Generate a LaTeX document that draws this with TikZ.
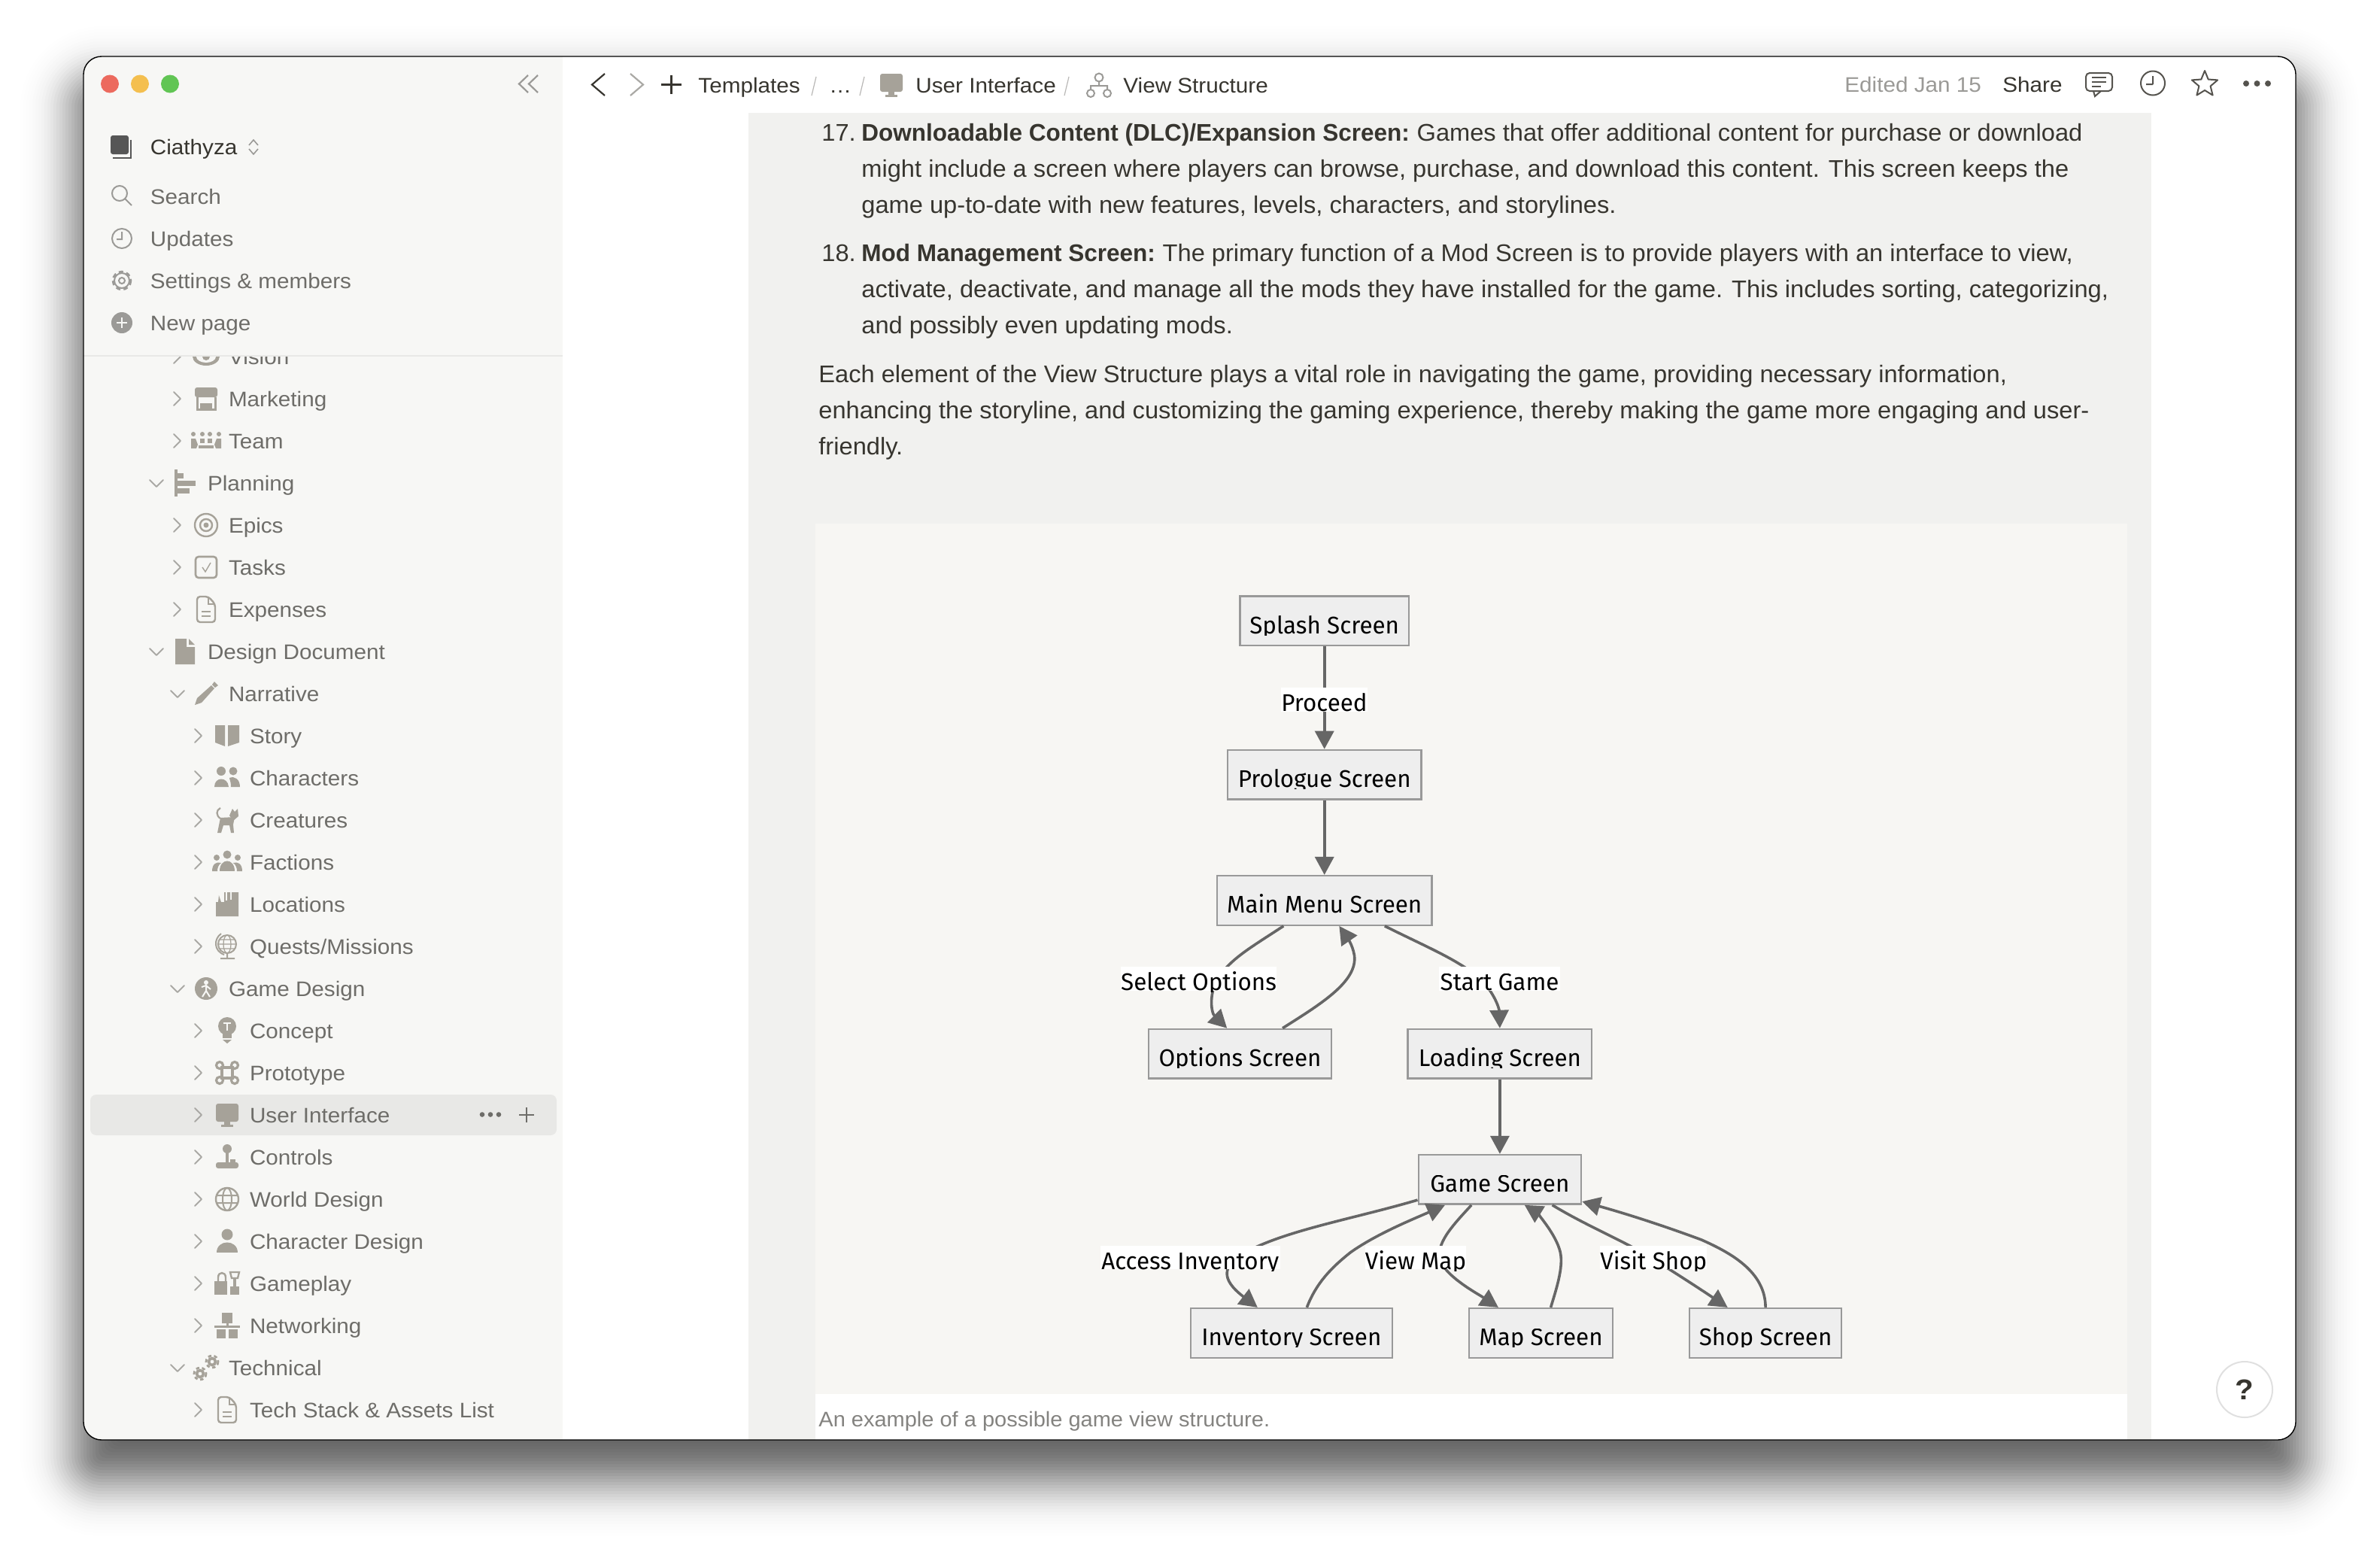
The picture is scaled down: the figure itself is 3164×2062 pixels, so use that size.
\documentclass[tikz,border=0pt]{standalone}
\usepackage{fontspec}
\usepackage{trimclip}
\setmainfont[FakeStretch=1.06]{Liberation Sans}
\newfontfamily\bodyfont[FakeStretch=1.02,BoldFeatures={FakeStretch=0.985}]{Liberation Sans}
\newfontfamily\notefont[FakeStretch=1.036]{Liberation Sans}
\newfontfamily\chartfont[FakeStretch=0.98]{Fira Sans}
\usetikzlibrary{arrows.meta,positioning}
\definecolor{sidebarbg}{HTML}{F7F7F5}
\definecolor{sidebarink}{HTML}{6E6D69}
\definecolor{bodyink}{HTML}{37352F}
\definecolor{mutedink}{HTML}{9B9A97}
\definecolor{iconink}{HTML}{A6A299}
\definecolor{chevink}{HTML}{AAA9A5}
\definecolor{pagegray}{HTML}{F1F1EF}
\definecolor{chartbg}{HTML}{F7F6F3}
\definecolor{selectrow}{HTML}{E8E8E6}
\definecolor{boxfill}{HTML}{EEEEEE}
\definecolor{boxline}{HTML}{999999}
\definecolor{edgeink}{HTML}{666666}
\newcommand{\cutlabel}[1]{\clipbox{0pt {\dimexpr\depth-0.8pt\relax} 0pt 0pt}{#1}}
\newcommand{\chevright}{\draw[chevstyle] (-5,-9) -- (4,0) -- (-5,9);}
\newcommand{\chevdown}{\draw[chevstyle] (-9,-4) -- (0,5) -- (9,-4);}
\newcommand{\icvision}{\fill[iconink] (0,0) ellipse [x radius=18,y radius=12]; \fill[sidebarbg] (0,0) ellipse [x radius=13,y radius=8]; \fill[iconink] (0,0) circle [radius=5];}
\newcommand{\icstore}{\fill[iconink,rounded corners=1.5pt] (-15,-2) -- (-15,-15) -- (15,-15) -- (15,-2) -- cycle; \draw[iconink,line width=1.5pt] (-12,-2) -- (-12,14) -- (12,14) -- (12,-2); \fill[iconink] (-8,6) rectangle (8,14);}
\newcommand{\icteam}{\foreach \hx in {-17,-5,5,17} {\fill[iconink] (\hx,-9) circle [radius=3];} \fill[iconink] (-20,10) -- (-20,-3) -- (-14,-3) -- (-11,5) -- (-13,10) -- cycle; \fill[iconink] (20,10) -- (20,-3) -- (14,-3) -- (11,5) -- (13,10) -- cycle; \fill[iconink] (-10,10) rectangle (10,6); \fill[iconink] (-8,3) rectangle (-2,-3); \fill[iconink] (2,3) rectangle (8,-3);}
\newcommand{\icgantt}{\fill[iconink] (-14,-18) rectangle (-10,18); \fill[iconink] (-10,-13) rectangle (-2,-6); \fill[iconink] (-10,-3) rectangle (14,4); \fill[iconink] (-10,7) rectangle (6,14);}
\newcommand{\ictarget}{\draw[iconink,line width=1.2pt] (0,0) circle [radius=15]; \draw[iconink,line width=1.2pt] (0,0) circle [radius=8]; \fill[iconink] (0,0) circle [radius=3.5];}
\newcommand{\iccheck}{\draw[iconink,line width=1.3pt,rounded corners=2pt] (-14,-14) rectangle (14,14); \draw[iconink,line width=0.7pt] (-5,0) -- (-1,6) -- (6,-6);}
\newcommand{\icdoc}{\draw[iconink,line width=1.2pt,rounded corners=2pt] (-12,-17) -- (3,-17) -- (12,-7) -- (12,17) -- (-12,17) -- cycle; \draw[iconink,line width=0.8pt] (3,-17) -- (3,-7) -- (12,-7); \draw[iconink,line width=0.8pt] (-6,3) -- (6,3) (-6,9) -- (6,9);}
\newcommand{\icfilleddoc}{\fill[iconink] (-13,-17) -- (2,-17) -- (2,-6) -- (13,-6) -- (13,17) -- (-13,17) -- cycle; \fill[iconink] (5,-17) -- (13,-9) -- (5,-9) -- cycle;}
\newcommand{\icpencil}{\fill[iconink] (-15,15) -- (-12,6) -- (7,-11) -- (11,-7) -- (-6,12) -- cycle; \fill[iconink] (11,-16) -- (16,-11) -- (12,-8) -- (8,-12) -- cycle;}
\newcommand{\icbook}{\fill[iconink] (-16,-14) -- (-3,-14) -- (-3,14) -- (-16,9) -- cycle; \fill[iconink] (1,-14) -- (16,-14) -- (16,9) -- (1,14) -- cycle;}
\newcommand{\icpair}{\fill[iconink] (-8,-9) circle [radius=6]; \fill[iconink] (8,-9) circle [radius=5.5]; \fill[iconink] (-17,12) .. controls (-17,-2) and (1,-2) .. (2,12) -- cycle; \fill[iconink] (5,12) .. controls (5,4) and (3,2) .. (3,0) .. controls (10,-3) and (17,2) .. (17,12) -- cycle;}
\newcommand{\iccat}{\fill[iconink] (-9,-3) -- (10,-4) -- (8,6) -- (9,17) -- (5,17) -- (3,7) -- (-5,7) -- (-8,17) -- (-13,17) -- cycle; \fill[iconink] (3,-6) -- (7,-15) -- (10,-11) -- (14,-15) -- (15,-5) -- (8,1) -- cycle; \draw[iconink,line width=1.1pt] (-9,-2) .. controls (-15,-6) and (-15,-13) .. (-9,-16);}
\newcommand{\icgroup}{\fill[iconink] (0,-10) circle [radius=5.5]; \fill[iconink] (-14,-6) circle [radius=4]; \fill[iconink] (14,-6) circle [radius=4]; \fill[iconink] (-10,12) .. controls (-10,-6) and (10,-6) .. (10,12) -- cycle; \fill[iconink] (-20,12) .. controls (-20,2) and (-14,-1) .. (-8,1) .. controls (-12,4) and (-13,8) .. (-13,12) -- cycle; \fill[iconink] (20,12) .. controls (20,2) and (14,-1) .. (8,1) .. controls (12,4) and (13,8) .. (13,12) -- cycle;}
\newcommand{\iccity}{\fill[iconink] (-15,16) -- (-15,-3) -- (-12,-3) -- (-11,-12) -- (-8,-3) -- (-4,-3) -- (-4,-16) -- (4,-16) -- (4,-6) -- (6,-6) -- (6,-16) -- (15,-16) -- (15,16) -- cycle; \fill[sidebarbg] (-2,-17) rectangle (0,-5);}
\newcommand{\icdeskglobe}{\draw[iconink,line width=1pt] (0,-3) circle [radius=12]; \draw[iconink,line width=0.6pt] (0,-3) ellipse [x radius=5,y radius=12] (-12,-3) -- (12,-3) (-10,-9) -- (10,-9) (-10,3) -- (10,3); \draw[iconink,line width=1pt] (-8,-17) .. controls (-18,-10) and (-18,6) .. (-4,11) (0,10) -- (0,16) (-9,16) -- (10,16);}
\newcommand{\icwalker}{\fill[iconink] (0,0) circle [radius=15]; \fill[sidebarbg] (0,-8) circle [radius=3]; \draw[sidebarbg,line width=1pt] (-6,-2) -- (0,-4) -- (6,1) (0,-4) -- (0,3) -- (-5,11) (0,3) -- (5,11);}
\newcommand{\icbulb}{\fill[iconink] (0,-6) circle [radius=12]; \fill[iconink] (-6,2) rectangle (6,10); \fill[iconink] (-6,12) -- (6,12) -- (0,17) -- cycle; \draw[sidebarbg,line width=0.9pt] (-5,-10) -- (5,-10) (0,-10) -- (0,0);}
\newcommand{\iccommand}{\draw[iconink,line width=1.6pt] (-7,-7) rectangle (7,7); \foreach \hx/\hy in {-10/-10,10/-10,-10/10,10/10} {\draw[iconink,line width=1.6pt] (\hx,\hy) circle [radius=4.5];}}
\newcommand{\icmonitor}{\fill[iconink,rounded corners=1.5pt] (-15,-15) rectangle (15,9); \fill[iconink] (-4,9) rectangle (4,14); \fill[iconink] (-8,13) rectangle (8,16);}
\newcommand{\icjoystick}{\fill[iconink] (0,-11) circle [radius=6]; \fill[iconink] (-2,-8) rectangle (2,8); \fill[iconink,rounded corners=1.5pt] (-15,15) -- (-15,7) -- (15,7) -- (15,15) -- cycle; \fill[iconink] (4,3) rectangle (11,8);}
\newcommand{\icglobe}{\draw[iconink,line width=1.2pt] (0,0) circle [radius=15]; \draw[iconink,line width=1pt] (0,0) ellipse [x radius=6,y radius=15] (-14,-5) -- (14,-5) (-14,5) -- (14,5);}
\newcommand{\icperson}{\fill[iconink] (0,-9) circle [radius=7.5]; \fill[iconink] (-14,15) .. controls (-14,-3) and (14,-3) .. (14,15) -- cycle;}
\newcommand{\icplayset}{\draw[iconink,line width=1.2pt] (-12,-3) -- (-12,-8) .. controls (-12,-16) and (-2,-16) .. (-2,-8) -- (-2,-3); \fill[iconink] (-17,-3) rectangle (0,15); \fill[iconink] (4,4) -- (16,4) -- (16,15) -- (4,15) -- cycle; \fill[iconink] (8,-6) rectangle (12,5); \draw[iconink,line width=1.2pt] (4,-15) -- (16,-15) -- (14,-7) -- (6,-7) -- cycle;}
\newcommand{\icnetwork}{\fill[iconink] (-7,-17) rectangle (7,-3); \fill[iconink] (-1.5,-3) rectangle (1.5,2); \fill[iconink] (-17,0) rectangle (17,3); \fill[iconink] (-14,5) rectangle (-2,17); \fill[iconink] (2,5) rectangle (14,17);}
\newcommand{\icgear}[3]{\draw[iconink,line width=#3*1.4pt,dash pattern=on #3*2.2pt off #3*1.8pt] (#1,#2) circle [radius=8*#3]; \draw[iconink,line width=#3*1.8pt] (#1,#2) circle [radius=4.5*#3];}
\newcommand{\icgears}{\icgear{8}{-8}{1}\icgear{-8}{8}{1}}
\begin{document}
\begin{tikzpicture}[
    x=0.5pt, y=-0.5pt,
    chevstyle/.style={draw=chevink, line width=1pt, line cap=round, line join=round},
    uiline/.style={draw=mutedink, line width=1pt},
    sidelabel/.style={anchor=base west, inner sep=0, text=sidebarink, font=\fontsize{14pt}{16pt}\selectfont},
    bodyline/.style={anchor=base west, inner sep=0, text=bodyink, font=\bodyfont\fontsize{16pt}{18pt}\selectfont},
    headlabel/.style={anchor=base west, inner sep=0, text=bodyink, font=\fontsize{14pt}{16pt}\selectfont},
    screenbox/.style={rectangle, draw=boxline, fill=boxfill, line width=1.2pt, inner sep=0,
        minimum height=32.8pt, minimum width=#1*0.5pt-1.2pt, text height=17pt, text depth=0pt,
        text=black, font=\chartfont\fontsize{16pt}{18pt}\selectfont},
    edgelabel/.style={rectangle, fill=white, inner sep=0, minimum width=#1*0.5pt,
        text height=15.6pt, text depth=0pt, text=black, font=\chartfont\fontsize{16pt}{18pt}\selectfont},
    arrowstyle/.style={draw=edgeink, line width=1.8pt, -{Triangle[length=12pt,width=12.5pt]}}
]
\useasboundingbox (0,0) rectangle (3164,2062);
\fill[white] (0,0) rectangle (3164,2062);

\foreach \d in {84,80,...,-84} {
  \pgfmathsetmacro{\shadeop}{0.0419*exp(-\d*\d/2450)}
  \pgfmathsetmacro{\shaderad}{max(10,24+\d)*0.5}
  \fill[black, opacity=\shadeop, rounded corners=\shaderad pt]
    ({111-\d},{119-\d}) rectangle ({3052+\d},{1958+\d});
}

\begin{scope}
\clip[rounded corners=12pt] (111,75) rectangle (3052,1914);
\fill[white] (111,75) rectangle (3052,1914);
\fill[sidebarbg] (111,75) rectangle (748,1914);
\fill[pagegray] (995,150) rectangle (2860,1914);
\fill[chartbg] (1084,696) rectangle (2828,1853);
\fill[white] (1084,1853) rectangle (2828,1914);
\draw[draw=selectrow, line width=1pt] (111,473) -- (748,473);
\end{scope}

\foreach \cx/\dotcolor in {146/EC6A5E,186/F4BF4F,226/61C554} {
  \definecolor{dotfill}{HTML}{\dotcolor}
  \fill[dotfill] (\cx,111.5) circle [radius=12];
}
\draw[draw=mutedink, line width=1.1pt] (702,100) -- (690,111.5) -- (702,123) (715,100) -- (703,111.5) -- (715,123);

\fill[draw=none, fill=selectrow, rounded corners=4pt] (120,1455) rectangle (740,1509);

\fill[fill=black!65!sidebarbg, rounded corners=1.5pt] (147,180) rectangle (171,205);
\draw[black!65!sidebarbg, line width=1.2pt] (174,186) -- (174,210) -- (150,210);
\node[headlabel] (WorkspaceName) at (199.5,205) {Ciathyza};
\draw[uiline, line width=0.8pt] (331,193) -- (337,186) -- (343,193) (331,198) -- (337,205) -- (343,198);

\foreach \ypos/\lab in {271/Search,327/Updates,383/{Settings \& members},439/New page} {
  \node[sidelabel] (Menu\ypos) at (199.5,\ypos) {\lab};
}
\draw[uiline] (159,257) circle [radius=10] (166,264) -- (175,273);
\draw[uiline] (162,317) circle [radius=13] (162,308) -- (162,318) -- (155,318);
\draw[uiline, line width=1.3pt, dash pattern=on 3pt off 2.2pt] (162,373) circle [radius=12];
\draw[uiline] (162,373) circle [radius=10] (162,373) circle [radius=4];
\fill[mutedink] (162,429) circle [radius=14];
\draw[sidebarbg, line width=1.2pt] (155,429) -- (169,429) (162,422) -- (162,436);

\begin{scope}
\clip (111,474) rectangle (748,1914);
\foreach \lvl/\ypos/\lab/\ic/\chv in {
    1/474/Vision/\icvision/\chevright,
    1/530/Marketing/\icstore/\chevright,
    1/586/Team/\icteam/\chevright,
    0/642/Planning/\icgantt/\chevdown,
    1/698/Epics/\ictarget/\chevright,
    1/754/Tasks/\iccheck/\chevright,
    1/810/Expenses/\icdoc/\chevright,
    0/866/Design Document/\icfilleddoc/\chevdown,
    1/922/Narrative/\icpencil/\chevdown,
    2/978/Story/\icbook/\chevright,
    2/1034/Characters/\icpair/\chevright,
    2/1090/Creatures/\iccat/\chevright,
    2/1146/Factions/\icgroup/\chevright,
    2/1202/Locations/\iccity/\chevright,
    2/1258/Quests\slash Missions/\icdeskglobe/\chevright,
    1/1314/Game Design/\icwalker/\chevdown,
    2/1370/Concept/\icbulb/\chevright,
    2/1426/Prototype/\iccommand/\chevright,
    2/1482/User Interface/\icmonitor/\chevright,
    2/1538/Controls/\icjoystick/\chevright,
    2/1594/World Design/\icglobe/\chevright,
    2/1650/Character Design/\icperson/\chevright,
    2/1706/Gameplay/\icplayset/\chevright,
    2/1762/Networking/\icnetwork/\chevright,
    1/1818/Technical/\icgears/\chevdown,
    2/1874/Tech Stack \& Assets List/\icdoc/\chevright} {
  \pgfmathsetmacro{\rowshift}{28*\lvl}
  \begin{scope}[shift={({208+\rowshift},\ypos)}] \chv \end{scope}
  \begin{scope}[shift={({246+\rowshift},\ypos)}] \ic \end{scope}
  \node[sidelabel] (Row\ypos) at ({275.6+\rowshift},{\ypos+10}) {\lab};
}
\end{scope}

\fill[sidebarink] (641,1481.5) circle [radius=3.3] (652,1481.5) circle [radius=3.3] (663,1481.5) circle [radius=3.3];
\draw[sidebarink, line width=1.1pt] (690,1482) -- (710,1482) (700,1472) -- (700,1492);

\draw[draw=bodyink, line width=1.1pt] (804,98) -- (787,112.5) -- (804,127);
\draw[draw=chevink, line width=1.1pt] (838,98) -- (855,112.5) -- (838,127);
\draw[draw=bodyink, line width=1.1pt] (879,112.5) -- (906,112.5) (892.5,100) -- (892.5,125);
\foreach \bx/\lab in {928/Templates,1217/User Interface,1493/View Structure} {
  \node[headlabel] (Crumb\bx) at (\bx,123) {\lab};
}
\node[headlabel] (CrumbGap) at (1102,123) {\ldots};
\foreach \bx in {1080,1144,1416} {
  \draw[draw=mutedink!70, line width=0.6pt] ({\bx+5},102) -- ({\bx-1},127);
}
\begin{scope}[shift={(1185,113)}] \icmonitor \end{scope}
\draw[uiline] (1461,103) circle [radius=5.5] (1461,109) -- (1461,114) (1450,120) -- (1450,114) -- (1472,114) -- (1472,120) (1450,124) circle [radius=5] (1472,124) circle [radius=5];

\node[headlabel, text=mutedink] (EditedStamp) at (2452,122) {Edited Jan 15};
\node[headlabel] (ShareLink) at (2662,122) {Share};
\draw[draw=bodyink!85, line width=1pt, rounded corners=2.5pt] (2773,97) rectangle (2808,121);
\draw[draw=bodyink!85, line width=1pt] (2783,121) -- (2785,128) -- (2793,121);
\draw[draw=bodyink!85, line width=0.8pt] (2781,103) -- (2800,103) (2781,109) -- (2800,109) (2781,115) -- (2793,115);
\draw[draw=bodyink!85, line width=1pt] (2862,110.5) circle [radius=16] (2862,101) -- (2862,112) (2862,112) -- (2853,112);
\begin{scope}[shift={(2931,112)}]
\draw[draw=bodyink!85, line width=1pt, line join=round] (0,-18) -- (4.7,-6.5) -- (17.1,-5.6) -- (7.6,2.5) -- (10.6,14.6) -- (0,8) -- (-10.6,14.6) -- (-7.6,2.5) -- (-17.1,-5.6) -- (-4.7,-6.5) -- cycle;
\end{scope}
\fill[bodyink!85] (2986,111) circle [radius=4] (3000.5,111) circle [radius=4] (3015,111) circle [radius=4];

\foreach \ypos/\bx/\lab in {
    187/1092/17.,
    187/1145/{\textbf{Downloadable Content (DLC)/Expansion Screen:}\hspace{-1.2pt} Games that offer additional content for purchase or download},
    235/1145/{might include a screen where players can browse, purchase, and download this content. This screen keeps the},
    283/1145/{game up-to-date with new features, levels, characters, and storylines.},
    347/1092/18.,
    347/1145/{\textbf{Mod Management Screen:}\hspace{-1.2pt} The primary function of a Mod Screen is to provide players with an interface to view,},
    395/1145/{activate, deactivate, and manage all the mods they have installed for the game. This includes sorting, categorizing,},
    443/1145/{and possibly even updating mods.},
    508/1088/{Each element of the View Structure plays a vital role in navigating the game, providing necessary information,},
    556/1088/{enhancing the storyline, and customizing the gaming experience, thereby making the game more engaging and user-},
    604/1088/{friendly.}} {
  \node[bodyline] (Body\ypos x\bx) at (\bx,\ypos) {\lab};
}

\node[screenbox=226.6] (SplashScreen) at (1760.7,825.4) {\cutlabel{Splash Screen}};
\node[screenbox=259.7, below=68.15pt of SplashScreen] (PrologueScreen) {\cutlabel{Prologue Screen}};
\node[screenbox=287.8, below=49.6pt of PrologueScreen] (MainMenu) {\cutlabel{Main Menu Screen}};
\node[screenbox=245, below=67.9pt of MainMenu, xshift=-56.1pt] (OptionsScreen) {\cutlabel{Options Screen}};
\node[screenbox=246.9, below=67.9pt of MainMenu, xshift=116.6pt] (LoadingScreen) {\cutlabel{Loading Screen}};
\node[screenbox=218.8, below=49.55pt of LoadingScreen] (GameScreen) {\cutlabel{Game Screen}};
\node[screenbox=270.8, below=68.05pt of GameScreen, xshift=-138.5pt] (InventoryScreen) {\cutlabel{Inventory Screen}};
\node[screenbox=193.7, below=68.05pt of GameScreen, xshift=27.3pt] (MapScreen) {\cutlabel{Map Screen}};
\node[screenbox=204.2, below=68.05pt of GameScreen, xshift=176.6pt] (ShopScreen) {\cutlabel{Shop Screen}};

\draw[arrowstyle] (SplashScreen) -- (PrologueScreen);
\draw[arrowstyle] (PrologueScreen) -- (MainMenu);
\draw[arrowstyle] (MainMenu.-148.3) .. controls (1665,1258) and (1640,1272) .. (1622,1296) .. controls (1606,1318) and (1610,1346) .. (OptionsScreen.117.5);
\draw[arrowstyle] (OptionsScreen.31.8) .. controls (1755,1335) and (1805,1305) .. (1800.5,1270) .. controls (1798,1255) and (1790,1245) .. (MainMenu.-60.3);
\draw[arrowstyle] (MainMenu.-23.7) .. controls (1895,1258) and (1930,1272) .. (1962,1296) .. controls (1985,1315) and (1993,1340) .. (LoadingScreen.north);
\draw[arrowstyle] (LoadingScreen) -- (GameScreen);
\draw[arrowstyle] (GameScreen.-166.5) .. controls (1800,1620) and (1710,1635) .. (1655,1665) .. controls (1625,1682) and (1622,1700) .. (InventoryScreen.143.1);
\draw[arrowstyle] (InventoryScreen.59.8) .. controls (1750,1705) and (1770,1685) .. (1795,1665) .. controls (1830,1640) and (1880,1620) .. (GameScreen.-155.7);
\draw[arrowstyle] (GameScreen.-138.1) .. controls (1935,1625) and (1910,1650) .. (1914,1672) .. controls (1918,1695) and (1965,1720) .. (MapScreen.149);
\draw[arrowstyle] (MapScreen.69.4) .. controls (2070,1710) and (2080,1680) .. (2073,1660) .. controls (2065,1635) and (2040,1610) .. (GameScreen.-46.5);
\draw[arrowstyle] (GameScreen.-26.8) .. controls (2110,1630) and (2160,1650) .. (2195,1672) .. controls (2240,1700) and (2270,1720) .. (ShopScreen.146.5);
\draw[arrowstyle] (ShopScreen.north) .. controls (2347,1690) and (2300,1665) .. (2262,1648) .. controls (2200,1625) and (2150,1610) .. (GameScreen.-15);

\node[edgelabel=113.7] (ProceedLabel) at (1760.5,930) {\cutlabel{Proceed}};
\node[edgelabel=206.6] (SelectLabel) at (1593.6,1301) {\cutlabel{Select Options}};
\node[edgelabel=161.7] (StartLabel) at (1993.6,1301) {\cutlabel{Start Game}};
\node[edgelabel=238.5] (AccessLabel) at (1582.3,1671.8) {\cutlabel{Access Inventory}};
\node[edgelabel=134.7] (ViewLabel) at (1882,1671.8) {\cutlabel{View Map}};
\node[edgelabel=138.9] (VisitLabel) at (2198.3,1671.8) {\cutlabel{Visit Shop}};

\node[sidelabel, text=mutedink!85!black, font=\notefont\fontsize{14pt}{16pt}\selectfont] (CaptionText) at (1088,1896) {An example of a possible game view structure.};

\node[circle, draw=black!12, fill=white, line width=1pt, minimum size=37pt, inner sep=0, text=bodyink,
    font=\fontsize{19pt}{20pt}\selectfont\bfseries] (HelpButton) at (2984,1847) {?};

\draw[draw=black, line width=0.7pt, rounded corners=12pt] (111,75) rectangle (3052,1914);
\end{tikzpicture}
\end{document}
